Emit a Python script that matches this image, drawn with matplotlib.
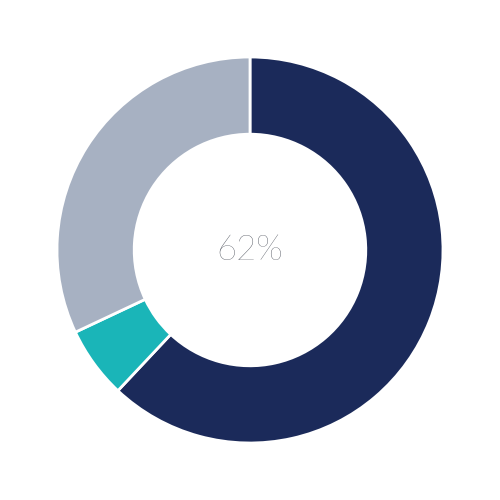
import matplotlib
matplotlib.use("Agg")
import matplotlib.pyplot as plt

labels = ["Primary", "Secondary", "Other"]
values = [62, 6, 32]
colors = ["#1b2a5a", "#1ab5b8", "#a7b1c2"]
center_text = "62%"

fig = plt.figure(figsize=(5, 5), dpi=100)
ax = fig.add_axes([0, 0, 1, 1])

ax.pie(values, colors=colors, startangle=90, counterclock=False,
       radius=1.0,
       wedgeprops=dict(width=0.40, edgecolor="white", linewidth=2))
ax.text(0, 0, center_text, ha="center", va="center", fontsize=25,
        color="#3a3f4a", family="Lato", fontweight="light")

lim = 250 / 193
ax.set_xlim(-lim, lim)
ax.set_ylim(-lim, lim)
ax.set_aspect("equal")
ax.axis("off")

plt.savefig("out.png", dpi=100, facecolor="white")
